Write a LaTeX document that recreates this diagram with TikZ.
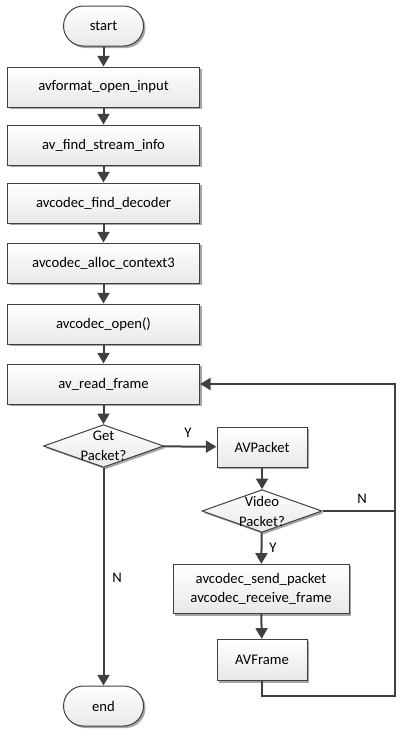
\documentclass[tikz,border=0pt]{standalone}
\usepackage{fontspec}
\setmainfont{Carlito}
\usetikzlibrary{arrows.meta,shapes.geometric,shadows}
\definecolor{lineclr}{RGB}{64,64,64}
\definecolor{shadowclr}{RGB}{165,165,165}

\tikzset{
  base/.style={draw=lineclr,line width=0.75pt,top color=white,bottom color=black!9,
    drop shadow={shadow xshift=1.5pt,shadow yshift=-1.5pt,fill=shadowclr,opacity=1},
    font=\fontsize{11}{14.25}\selectfont,align=center,inner sep=0pt},
  proc/.style={base,rectangle,minimum width=144pt,minimum height=30pt},
  smallproc/.style={base,rectangle,minimum width=67.5pt,minimum height=30pt},
  term/.style={base,rectangle,rounded corners=15pt,minimum width=60pt,minimum height=30pt},
  decision/.style={base,diamond,aspect=2.8,inner ysep=-2pt,minimum width=90pt,minimum height=32pt,
    font=\fontsize{11}{15}\selectfont},
  flowlabel/.style={font=\fontsize{11}{13}\selectfont,inner sep=0pt},
}

\begin{document}
\begin{tikzpicture}[x=0.75pt,y=-0.75pt]
  \useasboundingbox (0,0) rectangle (405,733);
  % left column
  \node[term] (start) at (103.5,26) {start};
  \node[proc] (open) at (103.5,87) {avformat\_open\_input};
  \node[proc] (info) at (103.5,145) {av\_find\_stream\_info};
  \node[proc] (finddec) at (103.5,203) {avcodec\_find\_decoder};
  \node[proc] (alloc) at (103.5,263) {avcodec\_alloc\_context3};
  \node[proc] (copen) at (103.5,324) {avcodec\_open()};
  \node[proc] (read) at (103.5,384) {av\_read\_frame};
  \node[decision] (getpkt) at (103.5,446) {Get\\Packet?};
  \node[term] (end) at (103.5,706) {end};
  % right column
  \node[smallproc] (avpkt) at (262,447) {AVPacket};
  \node[decision] (video) at (262,511) {Video\\Packet?};
  \node[proc,minimum width=132pt,minimum height=37pt] (decode) at (261,589)
    {avcodec\_send\_packet\\avcodec\_receive\_frame};
  \node[smallproc,minimum height=31pt] (frame) at (262,660) {AVFrame};
  \coordinate (loop) at (395,696);

  \begin{scope}[line width=1.5pt,lineclr,>={Triangle[length=8pt,width=9pt]}]
      \draw[->] (start) -- (open);
      \draw[->] (open) -- (info);
      \draw[->] (info) -- (finddec);
      \draw[->] (finddec) -- (alloc);
      \draw[->] (alloc) -- (copen);
      \draw[->] (copen) -- (read);
      \draw[->] (read) -- (getpkt);
      \draw[->] (getpkt) -- (avpkt);
      \draw[->] (avpkt) -- (video);
      \draw[->] (video) -- (decode);
      \draw[->] (decode) -- (frame);
      \draw[->] (getpkt) -- (end);
      % back to av_read_frame
      \draw (video.east) -- (video.east -| loop);
      \draw[->] (frame.south) |- (loop) |- (read.east);
  \end{scope}

  \node[flowlabel] (ylab1) at (188,433) {Y};
  \node[flowlabel] (nlab1) at (362,499) {N};
  \node[flowlabel] (ylab2) at (273,548) {Y};
  \node[flowlabel] (nlab2) at (117,578) {N};
\end{tikzpicture}
\end{document}
